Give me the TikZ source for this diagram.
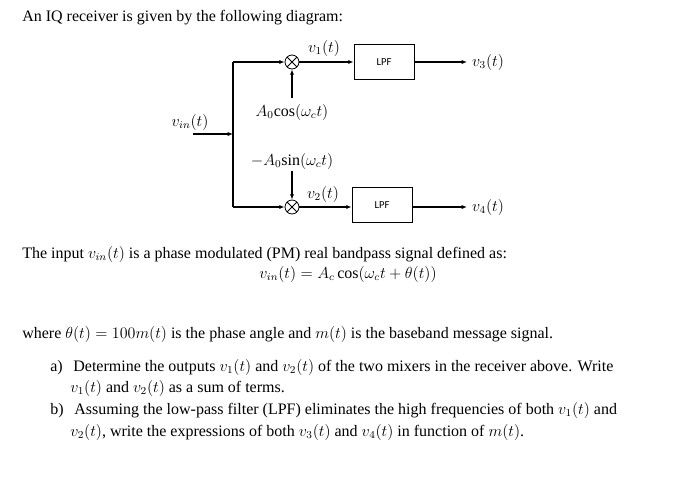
\documentclass[tikz,border=0pt]{standalone}
\usepackage{fontspec}
\setmainfont{Liberation Serif}
\newfontfamily\lpffont{Carlito}
\usetikzlibrary{arrows.meta}
\begin{document}
\begin{tikzpicture}[x=0.75pt,y=-0.75pt,
  txt/.style={anchor=base west,inner sep=0pt,font=\fontsize{12}{14}\selectfont},
  lbl/.style={inner sep=0pt,font=\fontsize{12}{14}\selectfont},
  mix/.style={circle,draw,line width=0.6pt,minimum size=10.5pt,inner sep=0pt,path picture={\draw (path picture bounding box.north west)--(path picture bounding box.south east) (path picture bounding box.north east)--(path picture bounding box.south west);}},
  lpf/.style={draw,line width=0.6pt,minimum width=45pt,minimum height=26pt,inner sep=0pt,font=\lpffont\fontsize{8}{10}\selectfont},
  arr/.style={-{Latex[length=4pt,width=3.2pt]},line width=1pt},
  ln/.style={line width=1pt}]
\useasboundingbox (0,0) rectangle (697,476);
\node[txt] (t0) at (22,21) {An IQ receiver is given by the following diagram:};
% diagram
\node[lbl] (vin) at (190,122) {$v_{in}(t)$};
\coordinate (s) at (193,134);
\coordinate (j) at (233,134);
\coordinate (jt) at (233,62);
\coordinate (jb) at (233,207);
\node[mix] (m1) at (292,62) {};
\node[mix] (m2) at (292,207) {};
\node[lpf] (l1) at (384,62) {LPF};
\node[lpf] (l2) at (382,205) {LPF};
\node[lbl] (cosl) at (292,112) {$A_0\mathrm{cos}(\omega_c t)$};
\node[lbl] (sinl) at (292,161) {$-A_0\mathrm{sin}(\omega_c t)$};
\node[lbl] (v1) at (324,48) {$v_1(t)$};
\node[lbl] (v2) at (323,194) {$v_2(t)$};
\node[lbl] (v3) at (488,62) {$v_3(t)$};
\node[lbl] (v4) at (488,207) {$v_4(t)$};
\coordinate (c1) at (292,98);
\coordinate (c2) at (292,171);
\coordinate (o1) at (467,62);
\coordinate (o2) at (467,207);
\draw[arr] (s)--(j);
\draw[ln] (jt)--(jb);
\draw[arr] (jt)--(m1.west);
\draw[arr] (jb)--(m2.west);
\draw[arr] (c1)--(m1.south);
\draw[arr] (c2)--(m2.north);
\draw[arr] (m1.east)--(l1.west);
\draw[arr] (m2.east)--(l2.west|-m2.east);
\draw[arr] (l1.east)--(o1);
\draw[arr] (l2.east|-o2)--(o2);
% text
\node[txt] (p1) at (22,258) {The input $v_{in}(t)$ is a phase modulated (PM) real bandpass signal defined as:};
\node[inner sep=0pt,anchor=base,font=\fontsize{12}{14}\selectfont] (eq) at (348,278) {$v_{in}(t)=A_c\cos(\omega_c t+\theta(t))$};
\node[txt] (p2) at (22,338) {where $\theta(t)=100m(t)$ is the phase angle and $m(t)$ is the baseband message signal.};
\node[txt] (a1) at (50,371) {a)\hspace{8pt}Determine the outputs $v_1(t)$ and $v_2(t)$ of the two mixers in the receiver above. Write};
\node[txt] (a2) at (70,392) {$v_1(t)$ and $v_2(t)$ as a sum of terms.};
\node[txt] (b1) at (50,414) {b)\hspace{8pt}Assuming the low-pass filter (LPF) eliminates the high frequencies of both $v_1(t)$ and};
\node[txt] (b2) at (70,436) {$v_2(t)$, write the expressions of both $v_3(t)$ and $v_4(t)$ in function of $m(t)$.};
\end{tikzpicture}
\end{document}
